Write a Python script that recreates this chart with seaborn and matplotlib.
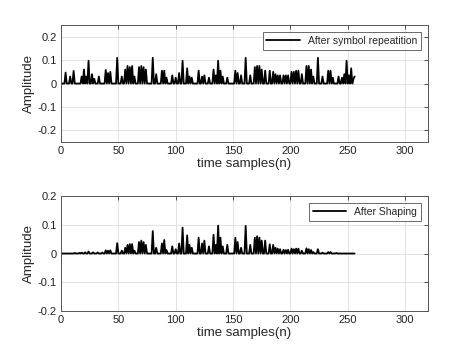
import numpy as np
import pandas as pd
import matplotlib
matplotlib.use("Agg")
import matplotlib.pyplot as plt
import seaborn as sns

# sample index runs 0..256, signal is zero except at these samples
n_samples = 257

top_n = [4, 8, 11, 18, 20, 22, 24, 27, 29, 33, 39, 41, 43, 49, 53, 56, 58, 60, 62, 64,
         68, 70, 72, 74, 80, 83, 88, 90, 92, 97, 100, 103, 106, 110, 112, 114, 120, 123,
         125, 129, 133, 135, 137, 139, 141, 145, 152, 154, 157, 161, 165, 169, 171, 173,
         175, 178, 182, 185, 187, 189, 191, 194, 196, 198, 201, 203, 205, 207, 210, 214,
         216, 218, 220, 224, 228, 233, 235, 237, 242, 245, 247, 249, 251, 253, 255, 256]
top_amp = [0.047, 0.03, 0.054, 0.03, 0.06, 0.03, 0.097, 0.04, 0.02, 0.03, 0.058, 0.045,
           0.05, 0.11, 0.03, 0.06, 0.075, 0.07, 0.075, 0.03, 0.07, 0.075, 0.07, 0.06,
           0.11, 0.04, 0.055, 0.055, 0.025, 0.035, 0.025, 0.045, 0.097, 0.065, 0.03,
           0.025, 0.055, 0.03, 0.035, 0.025, 0.06, 0.035, 0.097, 0.055, 0.03, 0.025,
           0.055, 0.045, 0.035, 0.11, 0.035, 0.07, 0.075, 0.075, 0.06, 0.055, 0.055,
           0.05, 0.04, 0.035, 0.035, 0.035, 0.035, 0.035, 0.05, 0.05, 0.055, 0.055,
           0.04, 0.075, 0.075, 0.06, 0.03, 0.11, 0.03, 0.055, 0.055, 0.025, 0.03,
           0.025, 0.04, 0.097, 0.035, 0.065, 0.02, 0.03]

bot_n = [12, 16, 18, 21, 24, 28, 32, 36, 39, 41, 43, 49, 53, 56, 58, 60, 62, 64, 68, 70,
         72, 74, 80, 83, 88, 90, 92, 97, 100, 103, 106, 110, 112, 114, 120, 123, 125,
         129, 133, 135, 137, 139, 141, 145, 152, 154, 157, 161, 165, 169, 171, 173, 175,
         178, 182, 185, 187, 189, 191, 194, 196, 198, 201, 203, 205, 207, 210, 214, 216,
         218, 220, 224, 228, 233, 235, 240]
bot_amp = [0.002, 0.002, 0.003, 0.004, 0.007, 0.004, 0.004, 0.003, 0.011, 0.01, 0.011,
           0.036, 0.01, 0.02, 0.03, 0.033, 0.033, 0.01, 0.04, 0.045, 0.04, 0.03, 0.078,
           0.02, 0.035, 0.047, 0.012, 0.025, 0.015, 0.035, 0.09, 0.063, 0.03, 0.02,
           0.055, 0.035, 0.045, 0.025, 0.065, 0.03, 0.097, 0.055, 0.025, 0.03, 0.055,
           0.04, 0.02, 0.096, 0.03, 0.055, 0.06, 0.055, 0.045, 0.045, 0.032, 0.03, 0.02,
           0.017, 0.015, 0.013, 0.012, 0.013, 0.017, 0.015, 0.017, 0.017, 0.01, 0.018,
           0.015, 0.012, 0.005, 0.015, 0.003, 0.005, 0.005, 0.002]

xticks = [0, 50, 100, 150, 200, 250, 300]


def to_frame(idx, amp):
    y = np.zeros(n_samples)
    y[idx] = amp
    return pd.DataFrame({"n": np.arange(n_samples), "amp": y})


sns.set_theme(style="whitegrid")
plt.rcParams["font.family"] = ["Liberation Sans", "DejaVu Sans"]

fig = plt.figure(figsize=(4.74, 3.56), dpi=100)
ax1 = fig.add_axes([0.1287, 0.601, 0.7743, 0.3287])
ax2 = fig.add_axes([0.1287, 0.1264, 0.7743, 0.323])

panels = [
    (ax1, to_frame(top_n, top_amp), "After symbol repeatition", 0.25, [-0.2, -0.1, 0, 0.1, 0.2]),
    (ax2, to_frame(bot_n, bot_amp), "After Shaping", 0.2, [-0.2, -0.1, 0, 0.1, 0.2]),
]

for ax, df, lab, lim, yt in panels:
    sns.lineplot(data=df, x="n", y="amp", ax=ax, color="black", linewidth=1.3, label=lab)
    ax.set_xlim(0, 320)
    ax.set_ylim(-lim, lim)
    ax.set_xticks(xticks)
    ax.set_yticks(yt)
    ax.set_yticklabels(["-0.2", "-0.1", "0", "0.1", "0.2"])
    ax.set_xlabel("time samples(n)", fontsize=9.5, labelpad=1)
    ax.set_ylabel("Amplitude", fontsize=9.5, labelpad=2)
    ax.tick_params(labelsize=8, direction="in", length=3, width=0.6, color="#333333",
                   top=True, right=True, pad=3, labelcolor="#222222")
    ax.grid(True, color="#dedede", linewidth=0.6)
    for s in ax.spines.values():
        s.set_color("#555555")
        s.set_linewidth(0.7)
    leg = ax.legend(loc="upper right", fontsize=7.5, frameon=True, fancybox=False,
                    handlelength=3.2, borderpad=0.35, borderaxespad=0.7)
    leg.get_frame().set_edgecolor("#444444")
    leg.get_frame().set_linewidth(0.7)

fig.savefig("out.png", dpi=100, facecolor="white")
